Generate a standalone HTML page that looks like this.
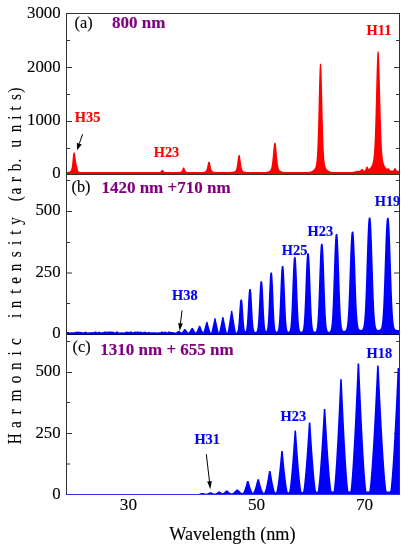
<!DOCTYPE html>
<html><head><meta charset="utf-8"><title>Harmonic spectra</title>
<style>html,body{margin:0;padding:0;background:#fff;width:408px;height:550px;overflow:hidden}svg{display:block}</style>
</head><body>
<svg width="408" height="550" viewBox="0 0 408 550"><rect width="408" height="550" fill="#ffffff"/><line x1="66" y1="13.5" x2="400" y2="13.5" stroke="#333333" stroke-width="1"/><line x1="66" y1="174.5" x2="400" y2="174.5" stroke="#333333" stroke-width="1"/><line x1="66" y1="334.5" x2="400" y2="334.5" stroke="#000066" stroke-width="1"/><line x1="66" y1="494.5" x2="400" y2="494.5" stroke="#3030f0" stroke-width="1"/><line x1="66.5" y1="13" x2="66.5" y2="495" stroke="#333333" stroke-width="1"/><line x1="399.5" y1="13" x2="399.5" y2="495" stroke="#333333" stroke-width="1"/><line x1="67" y1="67.5" x2="72" y2="67.5" stroke="#333333" stroke-width="1"/><line x1="394" y1="67.5" x2="399" y2="67.5" stroke="#333333" stroke-width="1"/><line x1="67" y1="121.5" x2="72" y2="121.5" stroke="#333333" stroke-width="1"/><line x1="394" y1="121.5" x2="399" y2="121.5" stroke="#333333" stroke-width="1"/><line x1="67" y1="40.5" x2="70" y2="40.5" stroke="#333333" stroke-width="1"/><line x1="396" y1="40.5" x2="399" y2="40.5" stroke="#333333" stroke-width="1"/><line x1="67" y1="94.5" x2="70" y2="94.5" stroke="#333333" stroke-width="1"/><line x1="396" y1="94.5" x2="399" y2="94.5" stroke="#333333" stroke-width="1"/><line x1="67" y1="148.5" x2="70" y2="148.5" stroke="#333333" stroke-width="1"/><line x1="396" y1="148.5" x2="399" y2="148.5" stroke="#333333" stroke-width="1"/><line x1="67" y1="211.5" x2="72" y2="211.5" stroke="#333333" stroke-width="1"/><line x1="394" y1="211.5" x2="399" y2="211.5" stroke="#333333" stroke-width="1"/><line x1="67" y1="273.0" x2="72" y2="273.0" stroke="#333333" stroke-width="1"/><line x1="394" y1="273.0" x2="399" y2="273.0" stroke="#333333" stroke-width="1"/><line x1="67" y1="180.5" x2="70" y2="180.5" stroke="#333333" stroke-width="1"/><line x1="396" y1="180.5" x2="399" y2="180.5" stroke="#333333" stroke-width="1"/><line x1="67" y1="242.5" x2="70" y2="242.5" stroke="#333333" stroke-width="1"/><line x1="396" y1="242.5" x2="399" y2="242.5" stroke="#333333" stroke-width="1"/><line x1="67" y1="303.5" x2="70" y2="303.5" stroke="#333333" stroke-width="1"/><line x1="396" y1="303.5" x2="399" y2="303.5" stroke="#333333" stroke-width="1"/><line x1="67" y1="372.5" x2="72" y2="372.5" stroke="#333333" stroke-width="1"/><line x1="394" y1="372.5" x2="399" y2="372.5" stroke="#333333" stroke-width="1"/><line x1="67" y1="433.5" x2="72" y2="433.5" stroke="#333333" stroke-width="1"/><line x1="394" y1="433.5" x2="399" y2="433.5" stroke="#333333" stroke-width="1"/><line x1="67" y1="341.5" x2="70" y2="341.5" stroke="#333333" stroke-width="1"/><line x1="396" y1="341.5" x2="399" y2="341.5" stroke="#333333" stroke-width="1"/><line x1="67" y1="402.5" x2="70" y2="402.5" stroke="#333333" stroke-width="1"/><line x1="396" y1="402.5" x2="399" y2="402.5" stroke="#333333" stroke-width="1"/><line x1="67" y1="464.0" x2="70" y2="464.0" stroke="#333333" stroke-width="1"/><line x1="396" y1="464.0" x2="399" y2="464.0" stroke="#333333" stroke-width="1"/><polygon fill="#ff0000" points="67.00,174.00 67.00,171.92 68.60,171.74 69.80,171.39 70.20,171.17 70.60,170.79 70.80,170.50 71.00,170.09 71.20,169.55 71.40,168.81 71.60,167.86 71.80,166.64 72.00,165.16 72.20,163.43 72.40,161.50 72.80,157.43 73.00,155.56 73.20,154.02 73.40,152.93 73.60,152.43 74.40,152.40 74.60,152.42 74.80,152.91 75.00,153.93 75.20,155.33 75.60,158.35 75.80,159.61 76.20,161.82 76.40,163.14 76.60,164.36 76.80,165.31 77.00,166.05 77.40,167.15 77.60,168.06 77.80,169.12 78.00,170.06 78.20,170.74 78.40,171.16 78.60,171.39 78.80,171.52 79.60,171.74 80.60,171.88 82.40,171.97 85.40,172.00 159.40,172.00 160.00,171.93 160.40,171.76 160.80,171.34 161.40,170.37 161.60,170.12 161.80,170.00 162.60,170.00 162.80,170.00 163.00,170.12 164.00,171.58 164.40,171.87 164.80,171.97 178.00,171.95 180.20,171.75 180.80,171.60 181.20,171.39 181.60,170.95 181.80,170.60 182.00,170.13 182.60,168.38 182.80,167.89 183.00,167.58 183.20,167.50 184.00,167.50 184.20,167.58 184.40,167.89 184.60,168.38 185.20,170.13 185.40,170.60 185.60,170.95 186.00,171.39 186.60,171.66 188.20,171.89 190.40,171.98 199.20,171.99 202.40,171.89 203.80,171.72 204.80,171.48 205.40,171.21 205.80,170.87 206.00,170.61 206.20,170.28 206.40,169.84 206.60,169.29 206.80,168.60 207.00,167.79 207.20,166.86 207.80,163.84 208.00,162.98 208.20,162.31 208.40,161.90 208.60,161.80 209.40,161.80 209.60,161.90 209.80,162.31 210.00,162.98 210.20,163.84 210.80,166.86 211.00,167.79 211.20,168.60 211.40,169.29 211.60,169.84 211.80,170.28 212.00,170.61 212.40,171.06 213.00,171.41 213.80,171.64 214.80,171.81 217.40,171.97 228.80,171.99 232.20,171.85 233.60,171.62 234.80,171.16 235.40,170.68 235.80,170.08 236.00,169.64 236.20,169.07 236.40,168.34 236.60,167.43 236.80,166.33 237.00,165.04 237.20,163.59 237.80,158.82 238.00,157.40 238.20,156.23 238.40,155.41 238.60,155.02 238.80,155.00 239.60,155.02 239.80,155.41 240.00,156.23 240.20,157.40 240.40,158.82 241.00,163.59 241.20,165.04 241.40,166.33 241.60,167.43 241.80,168.34 242.00,169.07 242.20,169.64 242.40,170.08 242.80,170.68 243.40,171.16 244.20,171.50 245.20,171.74 246.40,171.89 248.00,171.97 262.80,171.99 265.20,171.92 266.80,171.77 267.80,171.57 268.60,171.32 269.20,171.04 269.80,170.63 270.20,170.21 270.60,169.58 270.80,169.14 271.00,168.60 271.20,167.93 271.40,167.11 271.60,166.11 271.80,164.92 272.00,163.51 272.20,161.89 272.40,160.06 272.60,158.05 273.40,149.23 273.60,147.23 273.80,145.50 274.00,144.12 274.20,143.17 274.40,142.72 274.60,142.70 275.40,142.72 275.60,143.17 275.80,144.12 276.00,145.50 276.20,147.23 276.40,149.23 277.00,155.89 277.20,158.05 277.40,160.06 277.60,161.89 277.80,163.51 278.00,164.92 278.20,166.11 278.40,167.11 278.60,167.93 278.80,168.60 279.00,169.14 279.20,169.58 279.60,170.21 280.20,170.79 281.20,171.32 282.60,171.70 284.20,171.89 286.60,171.98 307.00,171.96 309.80,171.73 310.80,171.52 311.60,171.25 312.80,170.58 313.80,169.69 314.40,168.94 314.80,168.29 315.20,167.47 315.40,166.95 315.60,166.32 315.80,165.56 316.00,164.61 316.20,163.42 316.40,161.91 316.60,160.01 316.80,157.62 317.00,154.66 317.20,151.01 317.40,146.62 317.60,141.41 317.80,135.38 318.00,128.55 318.20,121.01 318.40,112.93 318.80,96.07 319.00,87.92 319.20,80.43 319.40,73.96 319.60,68.85 319.80,65.38 320.00,63.78 320.20,63.70 320.80,63.70 321.00,63.78 321.20,65.38 321.40,68.85 321.60,73.96 321.80,80.43 322.00,87.92 322.20,96.07 322.60,112.93 322.80,121.01 323.00,128.55 323.20,135.38 323.40,141.41 323.60,146.62 323.80,151.01 324.00,154.66 324.20,157.62 324.40,160.01 324.60,161.91 324.80,163.42 325.00,164.61 325.20,165.56 325.40,166.32 325.60,166.95 326.00,167.91 326.60,168.94 327.20,169.69 328.00,170.43 329.00,171.06 330.00,171.46 331.20,171.73 332.60,171.89 334.40,171.97 352.00,172.00 358.00,170.70 359.60,170.69 360.20,170.59 360.60,170.27 361.20,169.27 361.40,169.03 361.60,168.97 362.60,169.01 362.80,169.24 363.40,170.20 363.60,170.39 364.00,170.54 364.40,170.52 364.80,170.39 365.00,170.23 365.20,169.97 365.40,169.56 365.60,169.01 366.00,167.68 366.20,167.14 366.40,166.85 367.40,166.54 367.60,166.71 367.80,167.12 368.20,168.17 368.40,168.58 368.60,168.83 368.80,168.93 369.00,168.92 369.40,168.69 370.00,168.10 370.60,167.34 371.00,166.73 371.40,166.02 371.80,165.17 372.20,164.14 372.40,163.53 372.60,162.82 372.80,162.00 373.00,161.03 373.20,159.87 373.40,158.49 373.60,156.81 373.80,154.79 374.00,152.35 374.20,149.43 374.40,145.96 374.60,141.87 374.80,137.13 375.00,131.71 375.20,125.61 375.40,118.88 375.60,111.59 375.80,103.88 376.20,87.89 376.40,80.07 376.60,72.70 376.80,66.06 377.00,60.41 377.20,55.98 377.40,52.98 377.60,51.57 377.80,51.50 378.40,51.50 378.60,51.57 378.80,52.98 379.00,55.98 379.20,60.41 379.40,66.06 379.60,72.70 379.80,80.07 380.00,87.89 380.40,103.88 380.60,111.59 380.80,118.88 381.00,125.61 381.20,131.71 381.40,137.13 381.60,141.87 381.80,145.96 382.00,149.43 382.20,152.35 382.40,154.79 382.60,156.81 382.80,158.49 383.00,159.87 383.20,161.03 383.40,162.00 383.60,162.82 383.80,163.53 384.20,164.69 384.60,165.62 385.00,166.39 385.60,167.34 386.20,168.09 386.60,168.47 387.00,168.63 387.20,168.59 387.80,168.18 388.00,168.17 389.00,168.61 389.20,168.80 389.80,169.79 390.00,170.04 390.40,170.32 391.20,170.49 392.60,170.58 393.00,170.50 393.40,170.15 393.60,169.83 394.20,168.51 394.40,168.24 394.60,168.17 395.40,168.18 395.60,168.25 395.80,168.54 396.40,169.87 396.60,170.20 396.80,170.43 397.00,170.57 397.40,170.67 399.00,170.70 399.00,174.00"/><polygon fill="#0000ff" points="67.00,334.00 67.00,332.15 67.40,331.98 68.60,331.98 68.80,332.03 69.40,332.42 69.80,332.51 71.00,332.23 73.20,332.29 74.60,332.24 75.20,332.11 75.80,331.74 76.60,331.77 77.40,331.52 78.20,331.80 78.60,331.86 79.80,331.66 80.20,331.69 81.00,331.98 82.00,332.10 82.80,332.43 83.40,332.54 84.00,332.35 84.80,331.75 86.20,331.73 86.40,331.80 87.20,332.41 87.80,332.54 89.20,332.26 91.20,332.27 92.00,332.10 94.00,332.21 94.80,331.49 96.00,331.48 96.20,331.52 96.80,332.18 97.00,332.33 97.20,332.37 97.40,332.30 98.20,331.68 99.60,331.67 99.80,331.76 100.40,332.29 100.80,332.46 101.60,332.24 102.80,332.17 103.40,332.01 104.00,331.66 104.20,331.61 105.60,331.60 106.20,331.80 106.80,331.69 107.60,331.70 108.40,331.57 109.00,331.58 109.60,331.46 110.40,331.50 111.20,331.39 112.00,331.47 112.80,331.68 113.60,331.73 114.00,331.91 114.60,332.36 115.20,332.52 115.60,332.37 116.40,331.61 117.80,331.58 118.00,331.67 118.80,332.44 119.40,332.58 120.00,332.49 121.00,332.18 122.20,332.18 123.20,332.48 123.80,332.49 124.60,332.19 125.60,331.97 126.60,331.43 128.40,331.67 129.00,332.02 129.40,332.12 129.60,332.04 130.20,331.49 130.40,331.41 131.80,331.48 132.40,332.13 132.80,332.36 133.20,332.26 134.00,331.73 135.60,331.62 136.20,331.72 137.20,331.45 138.60,331.47 139.60,331.99 139.80,331.97 140.40,331.57 141.80,331.65 142.40,332.24 142.60,332.33 143.00,332.26 144.00,331.69 145.40,331.65 145.80,331.74 146.60,332.22 147.00,332.38 147.40,332.35 148.20,332.02 149.40,332.02 149.80,332.09 150.40,332.41 150.80,332.50 151.80,332.29 153.60,332.26 154.40,332.14 155.60,332.18 156.40,332.52 156.80,332.58 157.40,332.50 158.20,332.18 159.60,332.18 160.20,332.35 160.40,332.31 160.60,332.16 161.00,331.62 161.20,331.45 162.40,331.39 162.60,331.40 163.20,331.98 163.40,332.06 164.20,331.78 165.60,331.75 166.00,331.85 166.80,332.31 167.20,332.40 167.60,332.23 168.20,331.55 168.40,331.44 169.60,331.40 169.80,331.41 170.60,331.99 172.80,331.95 174.20,332.49 175.60,332.60 176.40,332.15 178.00,331.07 178.20,331.00 179.20,331.00 179.40,331.07 181.60,332.51 181.80,332.39 182.40,331.66 184.20,329.15 184.40,329.00 185.40,329.00 185.60,329.15 187.00,331.12 188.00,332.39 188.20,332.60 188.60,332.60 188.80,332.44 189.60,331.29 191.60,328.00 192.80,328.00 194.20,330.34 195.20,331.89 195.60,332.44 195.80,332.60 196.00,332.60 196.20,332.36 197.00,330.63 198.00,328.23 199.00,325.70 200.20,325.70 201.20,328.23 202.20,330.63 203.00,332.36 203.20,332.60 203.40,332.12 203.60,331.52 204.20,329.54 205.20,325.96 206.20,322.19 206.40,321.80 207.40,321.80 207.60,322.19 208.40,325.22 209.20,328.13 209.80,330.22 210.40,332.12 210.60,332.60 211.20,332.60 211.60,331.15 212.40,327.74 213.40,323.13 214.40,318.30 215.60,318.30 216.60,323.13 217.60,327.74 218.40,331.15 218.80,332.60 219.00,332.48 219.40,330.91 219.80,329.16 220.80,324.45 222.20,317.42 222.40,316.90 223.40,316.90 223.60,317.42 224.60,322.48 225.40,326.38 226.00,329.16 226.60,331.73 226.80,332.48 227.00,332.60 227.40,332.60 227.60,331.90 227.80,330.89 228.20,328.71 228.60,326.41 229.20,322.81 229.80,319.08 231.00,311.36 231.20,310.70 232.20,310.70 232.40,311.36 233.20,316.54 234.00,321.58 234.80,326.41 235.40,329.82 235.80,331.88 236.00,332.56 236.20,332.53 236.60,332.38 236.80,332.22 237.00,331.98 237.20,331.60 237.40,331.06 237.60,330.29 237.80,329.23 238.00,327.85 238.20,326.10 238.40,323.97 238.60,321.46 238.80,318.64 239.00,315.60 239.40,309.34 239.60,306.45 239.80,303.93 240.00,301.91 240.20,300.47 240.40,299.66 240.60,299.42 241.80,299.38 242.00,299.60 242.20,300.39 242.40,301.81 242.60,303.83 242.80,306.34 243.00,309.22 243.40,315.46 243.60,318.50 243.80,321.31 244.00,323.80 244.20,325.91 244.40,327.64 244.60,328.98 244.80,329.97 245.00,330.65 245.20,331.04 245.40,331.19 245.60,331.09 245.80,330.74 246.00,330.13 246.20,329.21 246.40,327.94 246.60,326.29 246.80,324.21 247.00,321.70 247.20,318.75 247.40,315.42 247.60,311.79 248.00,304.14 248.20,300.44 248.40,297.05 248.60,294.14 248.80,291.83 249.00,290.20 249.20,289.29 249.40,289.02 250.60,288.98 250.80,289.22 251.00,290.12 251.20,291.73 251.40,294.03 251.60,296.92 251.80,300.30 252.00,303.98 252.40,311.60 252.60,315.21 252.80,318.53 253.00,321.46 253.20,323.97 253.40,326.04 253.60,327.69 253.80,328.97 254.00,329.93 254.20,330.62 254.40,331.11 254.60,331.44 255.00,331.78 255.40,331.90 255.80,331.88 256.20,331.69 256.40,331.51 256.60,331.22 256.80,330.80 257.00,330.19 257.20,329.34 257.40,328.20 257.60,326.70 257.80,324.78 258.00,322.41 258.20,319.57 258.40,316.26 258.60,312.54 258.80,308.47 259.20,299.85 259.40,295.62 259.60,291.69 259.80,288.22 260.00,285.37 260.20,283.23 260.40,281.87 260.60,281.26 260.80,281.20 261.80,281.20 262.00,281.26 262.20,281.87 262.40,283.23 262.60,285.37 262.80,288.22 263.00,291.69 263.20,295.62 263.40,299.85 263.80,308.47 264.00,312.54 264.20,316.26 264.40,319.57 264.60,322.41 264.80,324.78 265.00,326.68 265.20,328.17 265.40,329.29 265.60,330.09 265.80,330.63 266.00,330.94 266.20,331.04 266.40,330.95 266.60,330.65 266.80,330.12 267.00,329.30 267.20,328.16 267.40,326.61 267.60,324.61 267.80,322.09 268.00,319.02 268.20,315.41 268.40,311.27 268.60,306.70 268.80,301.80 269.20,291.72 269.40,286.94 269.60,282.60 269.80,278.91 270.00,275.99 270.20,273.96 270.40,272.82 270.60,272.50 271.80,272.50 272.00,272.82 272.20,273.96 272.40,275.99 272.60,278.91 272.80,282.60 273.00,286.94 273.20,291.72 273.60,301.80 273.80,306.70 274.00,311.27 274.20,315.41 274.40,319.03 274.60,322.09 274.80,324.61 275.00,326.63 275.20,328.19 275.40,329.36 275.60,330.21 275.80,330.82 276.00,331.23 276.20,331.50 276.40,331.65 276.80,331.72 277.20,331.50 277.40,331.26 277.60,330.88 277.80,330.35 278.00,329.60 278.20,328.58 278.40,327.24 278.60,325.50 278.80,323.32 279.00,320.65 279.20,317.46 279.40,313.74 279.60,309.53 279.80,304.89 280.00,299.92 280.40,289.56 280.60,284.51 280.80,279.80 281.00,275.59 281.20,272.05 281.40,269.28 281.60,267.37 281.80,266.30 282.00,266.00 283.20,266.00 283.40,266.30 283.60,267.37 283.80,269.28 284.00,272.05 284.20,275.59 284.40,279.80 284.60,284.51 284.80,289.56 285.20,299.92 285.40,304.89 285.60,309.53 285.80,313.74 286.00,317.46 286.20,320.65 286.40,323.32 286.60,325.50 286.80,327.24 287.00,328.58 287.20,329.60 287.40,330.35 287.60,330.88 287.80,331.25 288.00,331.50 288.40,331.72 288.80,331.68 289.20,331.35 289.40,331.04 289.60,330.60 289.80,329.97 290.00,329.12 290.20,327.99 290.40,326.52 290.60,324.65 290.80,322.33 291.00,319.51 291.20,316.17 291.40,312.30 291.60,307.91 291.80,303.07 292.00,297.86 292.20,292.39 292.60,281.28 292.80,275.99 293.00,271.11 293.20,266.80 293.40,263.19 293.60,260.40 293.80,258.47 294.00,257.40 294.20,257.10 295.40,257.10 295.60,257.40 295.80,258.47 296.00,260.40 296.20,263.19 296.40,266.80 296.60,271.11 296.80,275.99 297.00,281.28 297.40,292.39 297.60,297.86 297.80,303.07 298.00,307.91 298.20,312.30 298.40,316.17 298.60,319.51 298.80,322.33 299.00,324.65 299.20,326.52 299.40,327.99 299.60,329.12 299.80,329.97 300.00,330.60 300.20,331.05 300.40,331.36 300.60,331.58 301.00,331.79 301.60,331.76 302.00,331.51 302.20,331.27 302.40,330.93 302.60,330.46 302.80,329.81 303.00,328.94 303.20,327.81 303.40,326.35 303.60,324.52 303.80,322.25 304.00,319.52 304.20,316.30 304.40,312.56 304.60,308.32 304.80,303.63 305.00,298.54 305.20,293.15 305.60,282.00 305.80,276.53 306.00,271.34 306.20,266.60 306.40,262.45 306.60,259.00 306.80,256.33 307.00,254.50 307.20,253.48 307.40,253.20 308.60,253.20 308.80,253.48 309.00,254.50 309.20,256.33 309.40,259.00 309.60,262.45 309.80,266.60 310.00,271.34 310.20,276.53 310.40,282.00 310.80,293.15 311.00,298.54 311.20,303.63 311.40,308.32 311.60,312.56 311.80,316.30 312.00,319.52 312.20,322.25 312.40,324.52 312.60,326.35 312.80,327.81 313.00,328.94 313.20,329.81 313.40,330.46 313.60,330.93 313.80,331.27 314.00,331.51 314.40,331.76 315.00,331.79 315.40,331.60 315.60,331.41 315.80,331.14 316.00,330.77 316.20,330.25 316.40,329.55 316.60,328.62 316.80,327.42 317.00,325.89 317.20,323.99 317.40,321.65 317.60,318.84 317.80,315.52 318.00,311.68 318.20,307.32 318.40,302.48 318.60,297.19 318.80,291.55 319.00,285.67 319.40,273.70 319.60,267.92 319.80,262.49 320.00,257.56 320.20,253.27 320.40,249.72 320.60,247.00 320.80,245.12 321.00,244.09 321.20,243.80 322.40,243.80 322.60,244.09 322.80,245.12 323.00,247.00 323.20,249.72 323.40,253.27 323.60,257.56 323.80,262.49 324.00,267.92 324.20,273.70 324.60,285.67 324.80,291.55 325.00,297.19 325.20,302.48 325.40,307.32 325.60,311.68 325.80,315.52 326.00,318.84 326.20,321.65 326.40,323.99 326.60,325.89 326.80,327.42 327.00,328.62 327.20,329.55 327.40,330.25 327.60,330.77 327.80,331.15 328.00,331.41 328.40,331.72 328.80,331.84 329.40,331.76 329.80,331.51 330.20,331.00 330.40,330.59 330.60,330.03 330.80,329.30 331.00,328.34 331.20,327.12 331.40,325.59 331.60,323.69 331.80,321.38 332.00,318.61 332.20,315.35 332.40,311.59 332.60,307.31 332.80,302.52 333.00,297.28 333.20,291.62 333.40,285.64 334.00,266.93 334.20,260.89 334.40,255.19 334.60,249.98 334.80,245.38 335.00,241.49 335.20,238.38 335.40,236.11 335.60,234.68 335.80,234.03 336.00,233.95 337.00,233.85 337.20,233.89 337.40,234.50 337.60,235.89 337.80,238.12 338.00,241.19 338.20,245.06 338.40,249.64 338.60,254.83 338.80,260.51 339.00,266.53 339.60,285.18 339.80,291.14 340.00,296.78 340.20,302.00 340.40,306.77 340.60,311.03 340.80,314.77 341.00,318.01 341.20,320.76 341.40,323.05 341.60,324.93 341.80,326.44 342.00,327.64 342.20,328.58 342.40,329.29 342.60,329.83 342.80,330.22 343.00,330.50 343.40,330.83 344.00,330.98 344.80,330.86 345.40,330.49 345.80,329.98 346.00,329.59 346.20,329.09 346.40,328.43 346.60,327.60 346.80,326.54 347.00,325.23 347.20,323.61 347.40,321.66 347.60,319.32 347.80,316.57 348.00,313.37 348.20,309.72 348.40,305.61 348.60,301.06 348.80,296.09 349.00,290.75 349.20,285.11 349.40,279.26 349.80,267.34 350.00,261.50 350.20,255.92 350.40,250.70 350.60,245.97 350.80,241.82 351.00,238.33 351.20,235.57 351.40,233.56 351.60,232.30 351.80,231.72 353.00,231.55 353.20,231.58 353.40,232.12 353.60,233.34 353.80,235.31 354.00,238.03 354.20,241.48 354.40,245.59 354.60,250.28 354.80,255.46 355.00,261.00 355.20,266.82 355.60,278.70 355.80,284.53 356.00,290.15 356.20,295.47 356.40,300.42 356.60,304.95 356.80,309.04 357.00,312.67 357.20,315.85 357.40,318.58 357.60,320.90 357.80,322.83 358.00,324.43 358.20,325.72 358.40,326.76 358.60,327.57 358.80,328.21 359.00,328.69 359.40,329.33 359.60,329.53 360.00,329.77 360.80,329.92 361.60,329.79 362.20,329.41 362.60,328.87 362.80,328.46 363.00,327.92 363.20,327.23 363.40,326.36 363.60,325.26 363.80,323.90 364.00,322.23 364.20,320.23 364.40,317.84 364.60,315.04 364.80,311.79 365.00,308.08 365.20,303.90 365.40,299.25 365.60,294.16 365.80,288.65 366.00,282.78 366.20,276.64 366.40,270.29 366.80,257.43 367.00,251.14 367.20,245.11 367.40,239.46 367.60,234.29 367.80,229.71 368.00,225.80 368.20,222.62 368.40,220.20 368.60,218.56 368.80,217.65 369.00,217.40 370.20,217.40 370.40,217.65 370.60,218.56 370.80,220.20 371.00,222.62 371.20,225.80 371.40,229.71 371.60,234.29 371.80,239.46 372.00,245.11 372.20,251.14 372.40,257.43 372.80,270.29 373.00,276.64 373.20,282.78 373.40,288.65 373.60,294.16 373.80,299.25 374.00,303.90 374.20,308.08 374.40,311.79 374.60,315.04 374.80,317.84 375.00,320.23 375.20,322.23 375.40,323.90 375.60,325.26 375.80,326.36 376.00,327.23 376.20,327.92 376.40,328.46 376.60,328.87 377.00,329.41 377.40,329.71 378.00,329.90 378.80,329.94 379.40,329.86 380.00,329.60 380.40,329.22 380.60,328.93 380.80,328.55 381.00,328.06 381.20,327.43 381.40,326.63 381.60,325.62 381.80,324.38 382.00,322.87 382.20,321.05 382.40,318.87 382.60,316.32 382.80,313.36 383.00,309.96 383.20,306.12 383.40,301.84 383.60,297.12 383.80,291.98 384.00,286.48 384.20,280.67 384.40,274.62 385.00,255.94 385.20,249.88 385.40,244.10 385.60,238.70 385.80,233.78 386.00,229.43 386.20,225.73 386.40,222.72 386.60,220.44 386.80,218.89 387.00,218.04 387.20,217.80 388.40,217.80 388.60,218.04 388.80,218.89 389.00,220.44 389.20,222.72 389.40,225.73 389.60,229.43 389.80,233.78 390.00,238.70 390.20,244.10 390.40,249.88 390.60,255.94 391.20,274.62 391.40,280.67 391.60,286.48 391.80,291.98 392.00,297.12 392.20,301.84 392.40,306.12 392.60,309.96 392.80,313.36 393.00,316.32 393.20,318.87 393.40,321.05 393.60,322.87 393.80,324.38 394.00,325.62 394.20,326.63 394.40,327.43 394.60,328.06 394.80,328.55 395.00,328.93 395.20,329.22 395.60,329.60 396.20,329.87 397.00,329.97 399.00,330.00 399.00,334.00"/><polygon fill="#0000ff" points="67.00,494.00 67.00,494.00 195.00,494.00 198.80,493.90 200.00,493.62 201.80,493.01 203.20,492.99 205.20,493.57 206.40,493.74 207.80,493.23 209.40,492.38 209.60,492.31 211.00,492.29 212.60,493.05 213.60,493.43 214.40,493.61 215.00,493.60 215.60,493.41 216.40,492.99 217.20,492.47 218.20,491.70 218.40,491.61 219.80,491.59 220.00,491.66 221.40,492.65 222.20,493.10 222.60,493.22 223.00,493.17 223.60,492.83 224.40,492.19 226.00,490.62 227.60,490.58 229.00,491.93 230.40,492.95 231.20,493.27 232.20,493.26 233.00,492.88 234.00,492.10 235.20,490.91 236.40,489.52 238.00,489.48 239.60,491.24 241.00,492.45 242.00,493.01 242.80,493.04 243.00,492.87 243.20,492.59 243.60,491.86 244.00,490.95 244.60,489.36 245.20,487.54 245.80,485.52 246.40,483.34 247.00,481.01 248.60,480.99 249.40,484.03 250.00,486.14 250.60,488.07 251.20,489.80 251.80,491.28 252.20,492.09 252.60,492.70 252.80,492.86 253.00,492.86 253.20,492.68 253.40,492.38 253.80,491.60 254.20,490.64 254.80,488.95 255.40,487.01 256.00,484.87 256.60,482.55 257.40,479.21 259.00,479.19 259.80,482.49 260.60,485.52 261.40,488.21 261.80,489.41 262.20,490.50 262.80,491.85 263.20,492.50 263.40,492.68 264.20,492.66 264.40,492.47 264.60,492.07 265.00,490.99 265.20,490.34 265.60,488.89 266.20,486.37 266.80,483.52 267.20,481.47 267.60,479.30 268.20,475.85 269.00,470.91 270.60,470.89 271.40,475.79 271.80,478.10 272.20,480.31 272.60,482.41 273.00,484.39 273.40,486.24 273.80,487.95 274.40,490.18 274.80,491.39 275.00,491.89 275.20,492.28 275.40,492.46 276.00,492.45 276.20,492.28 276.40,491.66 276.60,490.84 276.80,489.87 277.00,488.79 277.20,487.60 277.60,484.97 277.80,483.54 278.20,480.48 278.40,478.85 278.80,475.43 279.20,471.80 279.60,467.98 280.00,463.98 280.40,459.81 280.80,455.49 281.20,451.01 282.80,450.99 283.40,457.62 283.80,461.85 284.40,467.90 284.80,471.70 285.20,475.32 285.40,477.05 285.80,480.34 286.20,483.39 286.60,486.17 287.00,488.61 287.20,489.69 287.40,490.65 287.60,491.47 287.80,492.08 288.00,492.24 289.00,492.20 289.20,491.54 289.40,490.55 289.60,489.33 289.80,487.95 290.00,486.42 290.20,484.77 290.40,483.01 290.60,481.14 291.00,477.13 291.40,472.79 291.60,470.51 292.00,465.73 292.40,460.69 292.80,455.42 293.20,449.91 293.60,444.20 294.00,438.28 294.40,432.17 294.60,430.61 296.00,430.59 296.20,432.14 296.80,441.21 297.20,447.01 297.40,449.84 297.80,455.33 298.00,457.99 298.40,463.13 298.80,468.03 299.00,470.38 299.40,474.86 299.80,479.02 300.20,482.83 300.40,484.59 300.60,486.23 300.80,487.75 301.00,489.13 301.20,490.34 301.40,491.33 301.60,491.98 302.80,491.98 303.00,491.86 303.20,491.09 303.40,490.00 303.60,488.70 303.80,487.23 304.00,485.62 304.20,483.88 304.40,482.03 304.60,480.07 305.00,475.87 305.40,471.33 305.80,466.48 306.20,461.36 306.60,455.98 307.00,450.35 307.40,444.50 307.80,438.44 308.20,432.17 308.80,422.41 310.40,422.39 311.00,432.12 311.40,438.38 311.60,441.43 312.00,447.37 312.20,450.26 312.60,455.87 313.00,461.24 313.20,463.83 313.60,468.80 314.00,473.48 314.20,475.71 314.60,479.89 314.80,481.84 315.00,483.69 315.20,485.42 315.40,487.03 315.60,488.49 315.80,489.78 316.00,490.86 316.20,491.63 316.40,491.74 317.40,491.72 317.60,491.54 317.80,490.65 318.00,489.45 318.20,488.03 318.40,486.43 318.60,484.68 318.80,482.79 319.00,480.78 319.20,478.65 319.40,476.42 319.80,471.69 320.20,466.60 320.60,461.20 321.00,455.52 321.40,449.56 321.60,446.49 322.00,440.17 322.40,433.61 322.80,426.84 323.20,419.86 323.80,409.01 325.40,408.99 325.80,416.25 326.20,423.32 326.60,430.18 326.80,433.53 327.20,440.07 327.40,443.26 327.80,449.45 328.00,452.45 328.40,458.26 328.60,461.06 329.00,466.44 329.20,469.02 329.60,473.92 329.80,476.24 330.00,478.46 330.20,480.58 330.40,482.59 330.60,484.48 330.80,486.23 331.00,487.82 331.20,489.24 331.40,490.44 331.60,491.32 331.80,491.50 333.40,491.50 333.60,490.91 333.80,489.65 334.00,488.07 334.20,486.23 334.40,484.19 334.60,481.98 334.80,479.60 335.00,477.08 335.20,474.43 335.40,471.66 335.60,468.77 335.80,465.76 336.00,462.66 336.40,456.16 336.80,449.30 337.20,442.10 337.60,434.59 337.80,430.72 338.20,422.78 338.60,414.56 338.80,410.35 339.20,401.75 339.60,392.90 339.80,388.39 340.20,379.20 341.80,379.20 342.20,388.39 342.60,397.35 343.00,406.08 343.40,414.56 343.80,422.78 344.20,430.72 344.60,438.38 344.80,442.10 345.20,449.30 345.60,456.16 346.00,462.66 346.20,465.76 346.40,468.77 346.60,471.66 346.80,474.43 347.00,477.08 347.20,479.60 347.40,481.98 347.60,484.19 347.80,486.23 348.00,488.07 348.20,489.65 348.40,490.91 348.60,491.50 350.20,491.50 350.40,490.79 350.60,489.49 350.80,487.86 351.00,485.99 351.20,483.91 351.40,481.66 351.60,479.25 351.80,476.70 352.00,474.01 352.20,471.20 352.40,468.27 352.60,465.23 352.80,462.09 353.00,458.85 353.40,452.08 353.80,444.97 354.00,441.29 354.40,433.70 354.80,425.81 355.00,421.76 355.40,413.46 355.80,404.89 356.00,400.52 356.40,391.58 356.60,387.02 357.00,377.74 357.20,373.01 357.60,363.40 359.20,363.40 359.60,373.01 359.80,377.74 360.20,387.02 360.60,396.08 360.80,400.52 361.20,409.21 361.60,417.64 361.80,421.76 362.20,429.79 362.60,437.54 362.80,441.29 363.20,448.57 363.60,455.51 363.80,458.85 364.20,465.23 364.40,468.27 364.60,471.20 364.80,474.01 365.00,476.70 365.20,479.25 365.40,481.66 365.60,483.91 365.80,485.99 366.00,487.86 366.20,489.49 366.40,490.79 366.60,491.50 369.00,491.50 369.20,491.23 369.40,490.23 369.60,488.90 369.80,487.34 370.00,485.58 370.20,483.67 370.40,481.60 370.60,479.41 370.80,477.09 371.00,474.66 371.20,472.13 371.60,466.77 372.00,461.06 372.40,455.03 372.80,448.69 373.00,445.42 373.40,438.67 373.80,431.66 374.20,424.41 374.60,416.93 374.80,413.11 375.20,405.30 375.60,397.28 376.00,389.07 376.40,380.66 377.00,367.70 377.20,365.50 378.60,365.50 378.80,367.70 379.40,380.66 379.80,389.07 380.20,397.28 380.60,405.30 381.00,413.11 381.20,416.93 381.60,424.41 382.00,431.66 382.40,438.67 382.80,445.42 383.20,451.90 383.60,458.08 383.80,461.06 384.20,466.77 384.60,472.13 384.80,474.66 385.00,477.09 385.20,479.41 385.40,481.60 385.60,483.67 385.80,485.58 386.00,487.34 386.20,488.90 386.40,490.23 386.60,491.23 386.80,491.50 390.00,491.50 390.20,491.21 390.40,490.14 390.60,488.71 390.80,487.04 391.00,485.15 391.20,483.10 391.40,480.88 391.60,478.52 391.80,476.04 392.00,473.44 392.20,470.72 392.40,467.90 392.60,464.97 392.80,461.95 393.20,455.65 393.60,449.01 393.80,445.57 394.20,438.48 394.40,434.82 394.80,427.30 395.00,423.45 395.40,415.54 395.80,407.40 396.00,403.24 396.40,394.75 396.60,390.42 397.00,381.61 397.20,377.12 397.60,368.00 399.00,368.00 399.00,494.00"/><line x1="66.5" y1="13" x2="66.5" y2="495" stroke="#333333" stroke-width="1"/><line x1="399.5" y1="13" x2="399.5" y2="495" stroke="#333333" stroke-width="1"/><text x="60.6" y="17.75" font-family="'Liberation Serif', 'Times New Roman', serif" font-size="16.8" fill="#000" stroke="#000" stroke-width="0.12" text-anchor="end" font-weight="normal" >3000</text><text x="60.6" y="71.5" font-family="'Liberation Serif', 'Times New Roman', serif" font-size="16.8" fill="#000" stroke="#000" stroke-width="0.12" text-anchor="end" font-weight="normal" >2000</text><text x="60.6" y="125.3" font-family="'Liberation Serif', 'Times New Roman', serif" font-size="16.8" fill="#000" stroke="#000" stroke-width="0.12" text-anchor="end" font-weight="normal" >1000</text><text x="60.6" y="178.0" font-family="'Liberation Serif', 'Times New Roman', serif" font-size="16.8" fill="#000" stroke="#000" stroke-width="0.12" text-anchor="end" font-weight="normal" >0</text><text x="60.6" y="215.2" font-family="'Liberation Serif', 'Times New Roman', serif" font-size="16.8" fill="#000" stroke="#000" stroke-width="0.12" text-anchor="end" font-weight="normal" >500</text><text x="60.6" y="277.0" font-family="'Liberation Serif', 'Times New Roman', serif" font-size="16.8" fill="#000" stroke="#000" stroke-width="0.12" text-anchor="end" font-weight="normal" >250</text><text x="60.6" y="338.3" font-family="'Liberation Serif', 'Times New Roman', serif" font-size="16.8" fill="#000" stroke="#000" stroke-width="0.12" text-anchor="end" font-weight="normal" >0</text><text x="60.6" y="376.0" font-family="'Liberation Serif', 'Times New Roman', serif" font-size="16.8" fill="#000" stroke="#000" stroke-width="0.12" text-anchor="end" font-weight="normal" >500</text><text x="60.6" y="437.5" font-family="'Liberation Serif', 'Times New Roman', serif" font-size="16.8" fill="#000" stroke="#000" stroke-width="0.12" text-anchor="end" font-weight="normal" >250</text><text x="60.6" y="498.5" font-family="'Liberation Serif', 'Times New Roman', serif" font-size="16.8" fill="#000" stroke="#000" stroke-width="0.12" text-anchor="end" font-weight="normal" >0</text><text x="128.4" y="509.8" font-family="'Liberation Serif', 'Times New Roman', serif" font-size="17.2" fill="#000" stroke="#000" stroke-width="0.12" text-anchor="middle" font-weight="normal" >30</text><text x="256.5" y="509.8" font-family="'Liberation Serif', 'Times New Roman', serif" font-size="17.2" fill="#000" stroke="#000" stroke-width="0.12" text-anchor="middle" font-weight="normal" >50</text><text x="364.5" y="509.8" font-family="'Liberation Serif', 'Times New Roman', serif" font-size="17.2" fill="#000" stroke="#000" stroke-width="0.12" text-anchor="middle" font-weight="normal" >70</text><text x="169.2" y="539.9" font-family="'Liberation Serif', 'Times New Roman', serif" font-size="18.2" fill="#000" stroke="#000" stroke-width="0.12" text-anchor="start" font-weight="normal" >Wavelength (nm)</text><text transform="translate(21.0,0) rotate(-90) scale(0.82,1)" x="-541.80 -521.87 -505.38 -489.57 -467.43 -451.16 -433.44 -420.64" y="0" font-family="'Liberation Serif', 'Times New Roman', serif" font-size="18.5" fill="#000" stroke="#000" stroke-width="0.12">Harmonic</text><text transform="translate(21.0,0) rotate(-90) scale(0.82,1)" x="-387.71 -375.80 -358.34 -345.97 -330.67 -313.64 -298.93 -286.39 -274.09" y="0" font-family="'Liberation Serif', 'Times New Roman', serif" font-size="18.5" fill="#000" stroke="#000" stroke-width="0.12">intensity</text><text transform="translate(21.0,0) rotate(-90) scale(0.82,1)" x="-245.50 -237.24 -222.33 -208.79 -198.04" y="0" font-family="'Liberation Serif', 'Times New Roman', serif" font-size="18.5" fill="#000" stroke="#000" stroke-width="0.12">(arb.</text><text transform="translate(21.0,0) rotate(-90) scale(0.82,1)" x="-179.77 -161.22 -145.94 -134.62 -122.12 -113.10" y="0" font-family="'Liberation Serif', 'Times New Roman', serif" font-size="18.5" fill="#000" stroke="#000" stroke-width="0.12">units)</text><text x="74.6" y="27.5" font-family="'Liberation Serif', 'Times New Roman', serif" font-size="16.3" fill="#000" stroke="#000" stroke-width="0.12" text-anchor="start" font-weight="normal" >(a)</text><text x="112.1" y="28.4" font-family="'Liberation Serif', 'Times New Roman', serif" font-size="17" fill="#800080" stroke="#800080" stroke-width="0.12" text-anchor="start" font-weight="bold" >800 nm</text><text x="71.5" y="192" font-family="'Liberation Serif', 'Times New Roman', serif" font-size="16.3" fill="#000" stroke="#000" stroke-width="0.12" text-anchor="start" font-weight="normal" >(b)</text><text x="101.4" y="193.4" font-family="'Liberation Serif', 'Times New Roman', serif" font-size="17" fill="#800080" stroke="#800080" stroke-width="0.12" text-anchor="start" font-weight="bold" >1420 nm +710 nm</text><text x="72.6" y="351.5" font-family="'Liberation Serif', 'Times New Roman', serif" font-size="16.3" fill="#000" stroke="#000" stroke-width="0.12" text-anchor="start" font-weight="normal" >(c)</text><text x="100.3" y="355.0" font-family="'Liberation Serif', 'Times New Roman', serif" font-size="17" fill="#800080" stroke="#800080" stroke-width="0.12" text-anchor="start" font-weight="bold" >1310 nm + 655 nm</text><g transform="translate(74.8,121.9) scale(1,0.96)"><text x="0" y="0" font-family="'Liberation Serif', 'Times New Roman', serif" font-size="14.4" fill="#ff0000" stroke="#ff0000" stroke-width="0.12" text-anchor="start" font-weight="bold" >H35</text></g><g transform="translate(153.7,156.5) scale(1,0.96)"><text x="0" y="0" font-family="'Liberation Serif', 'Times New Roman', serif" font-size="14.4" fill="#ff0000" stroke="#ff0000" stroke-width="0.12" text-anchor="start" font-weight="bold" >H23</text></g><g transform="translate(366.6,35.4) scale(1,0.96)"><text x="0" y="0" font-family="'Liberation Serif', 'Times New Roman', serif" font-size="14.4" fill="#ff0000" stroke="#ff0000" stroke-width="0.12" text-anchor="start" font-weight="bold" >H11</text></g><g transform="translate(172.1,300.0) scale(1,0.96)"><text x="0" y="0" font-family="'Liberation Serif', 'Times New Roman', serif" font-size="14.4" fill="#0000ff" stroke="#0000ff" stroke-width="0.12" text-anchor="start" font-weight="bold" >H38</text></g><g transform="translate(281.8,254.6) scale(1,0.96)"><text x="0" y="0" font-family="'Liberation Serif', 'Times New Roman', serif" font-size="14.4" fill="#0000ff" stroke="#0000ff" stroke-width="0.12" text-anchor="start" font-weight="bold" >H25</text></g><g transform="translate(307.6,236.2) scale(1,0.96)"><text x="0" y="0" font-family="'Liberation Serif', 'Times New Roman', serif" font-size="14.4" fill="#0000ff" stroke="#0000ff" stroke-width="0.12" text-anchor="start" font-weight="bold" >H23</text></g><g transform="translate(374.7,206.0) scale(1,0.96)"><text x="0" y="0" font-family="'Liberation Serif', 'Times New Roman', serif" font-size="14.4" fill="#0000ff" stroke="#0000ff" stroke-width="0.12" text-anchor="start" font-weight="bold" >H19</text></g><g transform="translate(194.4,444.3) scale(1,0.96)"><text x="0" y="0" font-family="'Liberation Serif', 'Times New Roman', serif" font-size="14.4" fill="#0000ff" stroke="#0000ff" stroke-width="0.12" text-anchor="start" font-weight="bold" >H31</text></g><g transform="translate(280.6,421.0) scale(1,0.96)"><text x="0" y="0" font-family="'Liberation Serif', 'Times New Roman', serif" font-size="14.4" fill="#0000ff" stroke="#0000ff" stroke-width="0.12" text-anchor="start" font-weight="bold" >H23</text></g><g transform="translate(366.6,357.8) scale(1,0.96)"><text x="0" y="0" font-family="'Liberation Serif', 'Times New Roman', serif" font-size="14.4" fill="#0000ff" stroke="#0000ff" stroke-width="0.12" text-anchor="start" font-weight="bold" >H18</text></g><line x1="82.6" y1="134.2" x2="79.31245297309674" y2="143.59299150543788" stroke="#000" stroke-width="1"/><polygon fill="#000" points="77.0,150.2 76.86,142.73 81.77,144.45"/><line x1="182.0" y1="310.4" x2="180.5026326231508" y2="323.25240331795567" stroke="#000" stroke-width="1"/><polygon fill="#000" points="179.6,331.0 178.22,322.99 182.79,323.52"/><line x1="206.3" y1="454.2" x2="209.4718377070423" y2="481.35402524809376" stroke="#000" stroke-width="1"/><polygon fill="#000" points="210.4,489.3 207.19,481.62 211.76,481.09"/></svg>
</body></html>
